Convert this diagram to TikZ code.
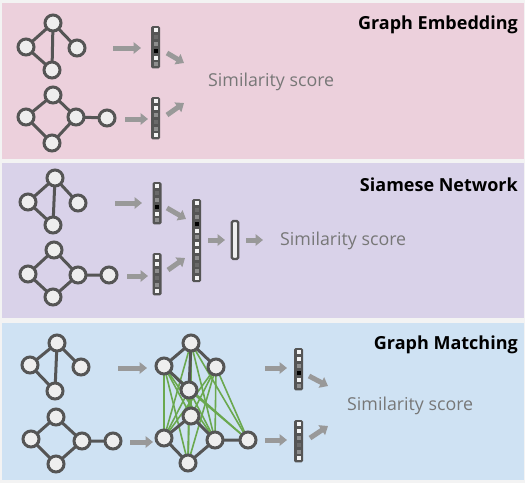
\documentclass[tikz,border=0pt]{standalone}
\usepackage{fontspec}
\setmainfont{Open Sans}
\usetikzlibrary{arrows.meta}
\definecolor{pagebg}{HTML}{F3F3F3}
\definecolor{pinkbg}{HTML}{ECD0DC}
\definecolor{lavbg}{HTML}{D9D2E9}
\definecolor{bluebg}{HTML}{CFE2F3}
\definecolor{nodeline}{HTML}{555555}
\definecolor{nodefill}{HTML}{EEEEEE}
\definecolor{arrowgray}{HTML}{999999}
\definecolor{simgray}{HTML}{777777}
\definecolor{matchgreen}{HTML}{6AA84F}
\definecolor{cw}{HTML}{F4F4F4}
\definecolor{cd}{HTML}{6A6A6A}
\definecolor{cg}{HTML}{8E8E8E}
\definecolor{ck}{HTML}{000000}
\pgfdeclarelayer{back}
\pgfdeclarelayer{mid}
\pgfsetlayers{back,mid,main}
\tikzset{
  gnode/.style={circle, draw=nodeline, fill=nodefill, line width=3pt, minimum size=16pt, inner sep=0pt, outer sep=0pt},
  gedge/.style={draw=nodeline, line width=3pt},
  medge/.style={draw=matchgreen, line width=1.6pt},
  flow/.style={draw=arrowgray, line width=5pt, -{Triangle[width=11.5pt,length=7.5pt]}},
  vecbox/.style={rectangle, fill=nodeline, rounded corners=1.5pt, minimum width=9pt, inner sep=0pt, outer sep=0pt},
  scorebar/.style={rectangle, draw=nodeline, fill=nodefill, line width=2.4pt, rounded corners=1.5pt, minimum width=6.5pt, minimum height=38pt, inner sep=0pt},
  simtext/.style={text=simgray, font=\fontsize{17.8}{20}\selectfont, inner sep=0pt},
  titletext/.style={text=black, font=\fontsize{18}{20}\selectfont\bfseries, inner sep=0pt},
}
\newcommand{\embvec}[5]{%
  \node[vecbox, minimum height={#4*6.8+1.6}, anchor=north] (#1) at (#2,#3) {};
  \foreach \c [count=\i] in {#5} {
    \fill[\c] ({#2-2},{#3+2.4+(\i-1)*6.8}) rectangle ++(4,4);
  }%
}
\newcommand{\graphA}[5]{%
  \node[gnode] (#1t) at (#2) {};
  \node[gnode] (#1l) at (#3) {};
  \node[gnode] (#1r) at (#4) {};
  \node[gnode] (#1b) at (#5) {};
  \draw[gedge] (#1t) -- (#1l) (#1t) -- (#1r) (#1t) -- (#1b) (#1l) -- (#1b);
}
\newcommand{\graphB}[6]{%
  \node[gnode] (#1t) at (#2) {};
  \node[gnode] (#1l) at (#3) {};
  \node[gnode] (#1r) at (#4) {};
  \node[gnode] (#1b) at (#5) {};
  \node[gnode] (#1f) at (#6) {};
  \draw[gedge] (#1t) -- (#1l) (#1t) -- (#1r) (#1l) -- (#1b) (#1b) -- (#1r) (#1r) -- (#1f);
}
\begin{document}
\begin{tikzpicture}[x=1pt,y=-1pt]
\begin{pgfonlayer}{back}
\fill[pagebg] (0,0) rectangle (525,483);
\fill[pinkbg] (2,3) rectangle (524,159);
\fill[lavbg] (2,163) rectangle (524,318);
\fill[bluebg] (2,323) rectangle (524,480);
\end{pgfonlayer}
\useasboundingbox (0,0) rectangle (525,483);

% ---------- Panel 1: Graph Embedding ----------
\node[titletext, anchor=east] (t1) at (518,25) {Graph Embedding};
\graphA{pa}{53,23}{26,47}{77,48}{52,70}
\graphB{pb}{53,95}{26,117}{76,117}{52,143}{107,118}
\embvec{v1a}{155.5}{26}{6}{cw,cd,cg,ck,cw,cg}
\embvec{v1b}{155.5}{97}{6}{cw,cw,cg,cd,cg,cw}
\coordinate (a1s) at (113,48); \coordinate (a1e) at (141,48);
\coordinate (a2s) at (125,119); \coordinate (a2e) at (148,119);
\draw[flow] (a1s) -- (a1e);
\draw[flow] (a2s) -- (a2e);
\coordinate (d1s) at (167,53); \coordinate (d1e) at (184,63);
\coordinate (d2s) at (167,115); \coordinate (d2e) at (184,103);
\draw[flow] (d1s) -- (d1e);
\draw[flow] (d2s) -- (d2e);
\node[simtext, anchor=west] (s1) at (208,82) {Similarity score};

% ---------- Panel 2: Siamese Network ----------
\node[titletext, anchor=east] (t2) at (518,185) {Siamese Network};
\graphA{qa}{55,178}{28,202}{78,203}{53,225}
\graphB{qb}{54,250}{28,274}{78,275}{53,297}{109,275}
\embvec{v2a}{157}{182}{6}{cw,cd,cg,ck,cw,cg}
\embvec{v2b}{157}{253}{6}{cw,cw,cg,cd,cg,cw}
\embvec{v2c}{196.5}{199}{12}{cw,cd,cg,ck,cw,cg,cw,cw,cg,cd,cg,cw}
\node[scorebar] (sb) at (235,240) {};
\coordinate (b1s) at (115,203); \coordinate (b1e) at (142,203);
\coordinate (b2s) at (127,276); \coordinate (b2e) at (148,276);
\draw[flow] (b1s) -- (b1e);
\draw[flow] (b2s) -- (b2e);
\coordinate (e1s) at (167,208); \coordinate (e1e) at (186,219);
\coordinate (e2s) at (168,270); \coordinate (e2e) at (185,258);
\draw[flow] (e1s) -- (e1e);
\draw[flow] (e2s) -- (e2e);
\coordinate (f1s) at (208,240); \coordinate (f1e) at (225,240);
\draw[flow] (f1s) -- (f1e);
\coordinate (f2s) at (246,240); \coordinate (f2e) at (263,240);
\draw[flow] (f2s) -- (f2e);
\node[simtext, anchor=west] (s2) at (280,241) {Similarity score};

% ---------- Panel 3: Graph Matching ----------
\node[titletext, anchor=east] (t3) at (518,345) {Graph Matching};
\graphA{ra}{57,343}{30,365}{81,367}{55,391}
\graphB{rb}{56,417}{31,439}{82,441}{56,464}{113,441}
\graphA{ma}{191,343}{164,366}{216,367}{189,390}
\graphB{mb}{191,416}{164,438}{215,440}{188,463}{248,440}
\begin{pgfonlayer}{mid}
\foreach \u in {mat,mal,mar,mab} {
  \foreach \w in {mbt,mbl,mbr,mbb,mbf} {
    \draw[medge] (\u.center) -- (\w.center);
  }
}
\end{pgfonlayer}
\embvec{v3a}{298.5}{348}{6}{cw,cw,cg,ck,cw,cg}
\embvec{v3b}{298.5}{420}{6}{cw,cw,cg,cd,cg,cw}
\coordinate (c1s) at (118,368); \coordinate (c1e) at (147,368);
\coordinate (c2s) at (130,442); \coordinate (c2e) at (153,442);
\draw[flow] (c1s) -- (c1e);
\draw[flow] (c2s) -- (c2e);
\coordinate (h1s) at (265,368); \coordinate (h1e) at (287,368);
\coordinate (h2s) at (265,440); \coordinate (h2e) at (287,440);
\draw[flow] (h1s) -- (h1e);
\draw[flow] (h2s) -- (h2e);
\coordinate (k1s) at (309,376); \coordinate (k1e) at (328,386);
\coordinate (k2s) at (310,438); \coordinate (k2e) at (328,426);
\draw[flow] (k1s) -- (k1e);
\draw[flow] (k2s) -- (k2e);
\node[simtext, anchor=west] (s3) at (347,406) {Similarity score};
\end{tikzpicture}
\end{document}
